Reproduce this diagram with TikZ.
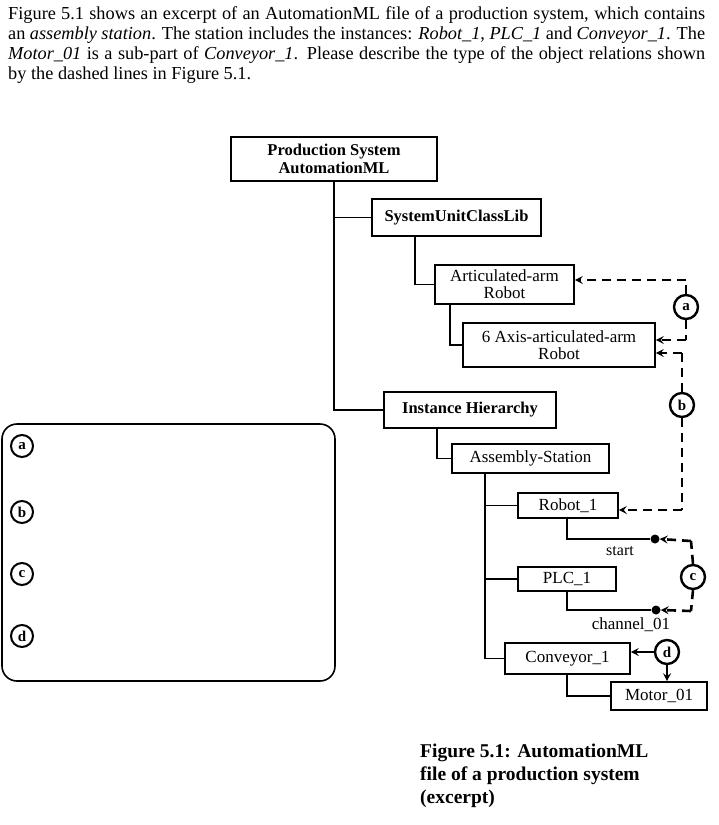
\documentclass[tikz,border=0pt]{standalone}
\usepackage{fontspec}
\setmainfont{Liberation Serif}
\usetikzlibrary{arrows.meta}
\begin{document}
\begin{tikzpicture}[x=1pt,y=-1pt,
 box/.style={draw,line width=1.6pt,minimum height=#1,inner sep=1pt,font=\fontsize{17}{17}\selectfont,align=center},
 bb/.style={font=\bfseries\fontsize{16.5}{18}\selectfont},
 tl/.style={line width=1.6pt},
 dl/.style={line width=2.6pt,dash pattern=on 9pt off 6pt},
 arr/.style={-{Stealth[length=8pt,width=8pt,inset=3pt]},line width=2.6pt},
 lab/.style={circle,draw,line width=2.4pt,fill=white,minimum size=24pt,inner sep=0pt,font=\bfseries\fontsize{15}{15}\selectfont},
 dot/.style={circle,fill=black,minimum size=9pt,inner sep=0pt}]
\useasboundingbox (0,0) rectangle (718,825);
\node[anchor=north west,text width=697pt,align=justify,inner sep=0pt,font=\fontsize{18.3}{20}\selectfont] (txt) at (8,6)
{Figure 5.1 shows an excerpt of an AutomationML file of a production system, which contains an \textit{assembly station}. The station includes the instances: \textit{Robot\_1}, \textit{PLC\_1} and \textit{Conveyor\_1}. The \textit{Motor\_01} is a sub-part of \textit{Conveyor\_1}. Please describe the type of the object relations shown by the dashed lines in Figure 5.1.};
\node[box=44pt,minimum width=206pt,bb] (ps) at (334,159) {Production System\\AutomationML};
\node[box=37pt,minimum width=169pt,bb] (su) at (456.5,217.5) {SystemUnitClassLib};
\node[box=39pt,minimum width=139pt] (ar) at (504.5,284.5) {Articulated-arm\\Robot};
\node[box=44pt,minimum width=192pt] (sx) at (559,345) {6 Axis-articulated-arm\\Robot};
\node[box=36pt,minimum width=172pt,bb] (ih) at (470,410) {Instance Hierarchy};
\node[box=29pt,minimum width=157pt] (as) at (530.5,458.5) {Assembly-Station};
\node[box=25pt,minimum width=100pt] (r1) at (568,505.5) {Robot\_1};
\node[box=24pt,minimum width=98pt] (p1) at (567,579) {PLC\_1};
\node[box=31pt,minimum width=125pt] (c1) at (567.5,658.5) {Conveyor\_1};
\node[box=28pt,minimum width=96pt] (m1) at (659,696) {Motor\_01};
% tree
\draw[tl] (334,181) |- (su.west);
\draw[tl] (334,181) |- (ih.west);
\draw[tl] (415,236) |- (ar.west);
\draw[tl] (450,304) |- (sx.west);
\draw[tl] (437,428) |- (as.west);
\draw[tl] (485,473) |- (r1.west);
\draw[tl] (485,473) |- (p1.west);
\draw[tl] (485,473) |- (c1.west);
\draw[tl] (567,674) |- (m1.west);
\node[dot] (d1) at (655,539) {};
\node[dot] (d2) at (656,610) {};
\draw[tl] (567,518) |- (d1);
\draw[tl] (567,591) |- (d2);
\node[font=\fontsize{16}{16}\selectfont] (st) at (620,551) {start};
\node[font=\fontsize{17}{17}\selectfont] (ch) at (631,625) {channel\_01};
% dashed relations
\node[lab] (la) at (686,307) {a};
\node[lab] (lb) at (682,405) {b};
\node[lab] (lc) at (693,577) {c};
\node[lab] (ld) at (667,652) {d};
\draw[dl] (la.north) -- (686,280);
\draw[dl,arr] (686,280) -- (ar.east |- 0,280);
\draw[dl] (la.south) -- (686,340);
\draw[dl,arr] (686,340) -- (sx.east |- 0,340);
\draw[dl] (lb.north) -- (682,353);
\draw[dl,arr] (682,353) -- (sx.east |- 0,353);
\draw[dl] (lb.south) -- (682,510);
\draw[dl,arr] (682,510) -- (r1.east |- 0,510);
\draw[dl] (lc.north) -- (691,541);
\draw[dl,arr] (691,541) -- (d1.east);
\draw[dl] (lc.south) -- (691,611);
\draw[dl,arr] (691,611) -- (d2.east);
\draw[arr] (ld.west) -- (c1.east |- ld.west);
\draw[arr] (ld.south) -- (ld.south |- m1.north);
% left box
\draw[line width=1.6pt,rounded corners=15pt] (2,424) rectangle (335,681);
\node[lab,minimum size=22pt,line width=2pt] (qa) at (22,446) {a};
\node[lab,minimum size=22pt,line width=2pt] (qb) at (22,512) {b};
\node[lab,minimum size=22pt,line width=2pt] (qc) at (22,574) {c};
\node[lab,minimum size=22pt,line width=2pt] (qd) at (22,636) {d};
\node[anchor=north west,align=left,inner sep=0pt,font=\bfseries\fontsize{19.5}{23}\selectfont] (cap) at (420,744) {Figure 5.1: AutomationML\\file of a production system\\(excerpt)};
\end{tikzpicture}
\end{document}
